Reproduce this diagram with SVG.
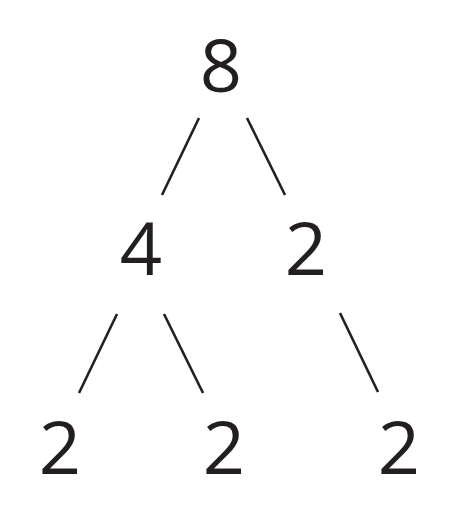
<svg xmlns="http://www.w3.org/2000/svg" width="474" height="509" viewBox="0 0 474 509">
<style>
.n{font-family:"Open Sans","Liberation Sans",sans-serif;font-size:74px;fill:#231f20;text-anchor:middle}
.e{stroke:#231f20;stroke-width:2.6;stroke-linecap:butt;fill:none}
</style>
<rect width="474" height="509" fill="#fff"/>
<g id="connectors">
<line class="e" x1="199" y1="118" x2="162" y2="195"/>
<line class="e" x1="247" y1="118" x2="285" y2="195"/>
<line class="e" x1="117" y1="314" x2="79" y2="393"/>
<line class="e" x1="164" y1="314" x2="203" y2="393"/>
<line class="e" x1="340" y1="313" x2="378" y2="392"/>
</g>
<g id="n8"><text class="n" x="221" y="92">8</text></g>
<g id="n4"><text class="n" x="141" y="275">4</text></g>
<g id="n2a"><text class="n" x="306" y="275">2</text></g>
<g id="n2b"><text class="n" x="60" y="474">2</text></g>
<g id="n2c"><text class="n" x="224" y="474">2</text></g>
<g id="n2d"><text class="n" x="399" y="474">2</text></g>
</svg>
